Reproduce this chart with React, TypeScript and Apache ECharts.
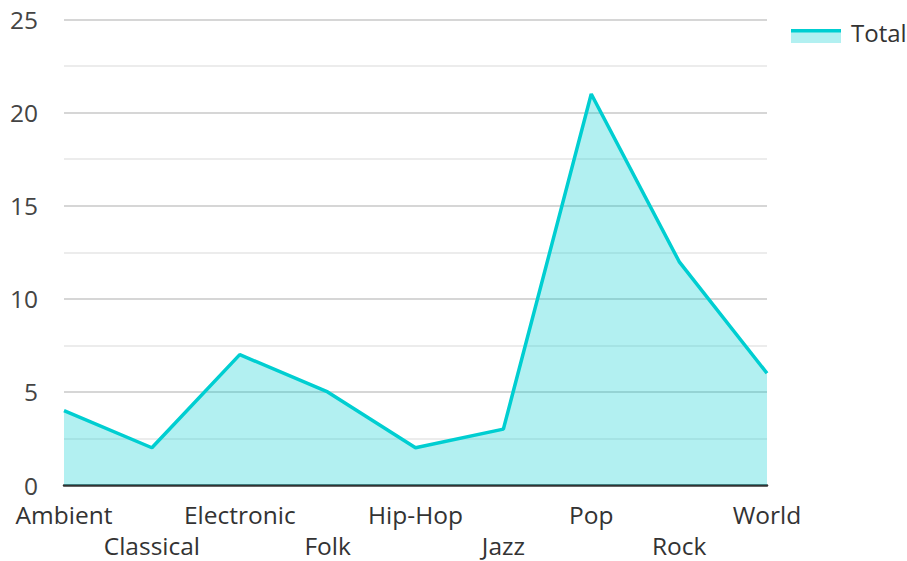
import React, { useEffect, useRef } from "react";
import * as echarts from "echarts";

const categories = ["Ambient", "Classical", "Electronic", "Folk", "Hip-Hop", "Jazz", "Pop", "Rock", "World"];
const totals = [4, 2, 7, 5, 2, 3, 21, 12, 6];
const seriesName = "Total";

const LINE = "#00CED1";
const FILL = "rgba(0,206,209,0.3)";
const FONT = "'Open Sans', 'Noto Sans', sans-serif";

export default function App() {
  const ref = useRef<HTMLDivElement>(null);
  useEffect(() => {
    if (!ref.current) return;
    const chart = echarts.init(ref.current, undefined, { renderer: "svg" });
    chart.setOption({
      animation: false,
      textStyle: { fontFamily: FONT },
      grid: { left: 64, right: 140, top: 19.5, bottom: 73.5, containLabel: false },
      xAxis: {
        type: "category",
        data: categories,
        boundaryGap: false,
        axisLine: { lineStyle: { color: "#333", width: 2.5 } },
        axisTick: { show: false },
        splitLine: { show: false },
        axisLabel: {
          interval: 0,
          color: "#333",
          fontSize: 24.5,
          fontFamily: FONT,
          margin: 14,
          lineHeight: 31,
          formatter: (v: string, i: number) => (i % 2 === 1 ? "\n" + v : v),
        },
      },
      yAxis: {
        type: "value",
        min: 0,
        max: 25,
        interval: 5,
        axisLine: { show: false },
        axisTick: { show: false },
        axisLabel: { color: "#444", fontSize: 24.5, fontFamily: FONT, margin: 26, lineHeight: 18 },
        splitLine: { lineStyle: { color: "#c8c8c8", width: 1.5 } },
        minorTick: { show: false, splitNumber: 2 },
        minorSplitLine: { show: true, lineStyle: { color: "#e6e6e6", width: 1.5 } },
      },
      series: [
        {
          name: seriesName,
          type: "line",
          data: totals,
          showSymbol: false,
          symbol: "none",
          lineStyle: { color: LINE, width: 3.5 },
          itemStyle: { color: LINE },
          areaStyle: { color: FILL, opacity: 1 },
          z: 1,
        },
      ],
      graphic: [
        { type: "rect", shape: { x: 791, y: 29, width: 50, height: 14 }, style: { fill: FILL } },
        { type: "rect", shape: { x: 791, y: 29, width: 50, height: 3.5 }, style: { fill: LINE } },
        {
          type: "text",
          x: 851,
          y: 32,
          style: { text: seriesName, fill: "#333", fontSize: 24, fontFamily: FONT, verticalAlign: "middle", align: "left" },
        },
      ],
    });
    return () => chart.dispose();
  }, []);
  return <div ref={ref} style={{ width: 907, height: 561, position: "absolute", left: 0, top: 0 }} />;
}
